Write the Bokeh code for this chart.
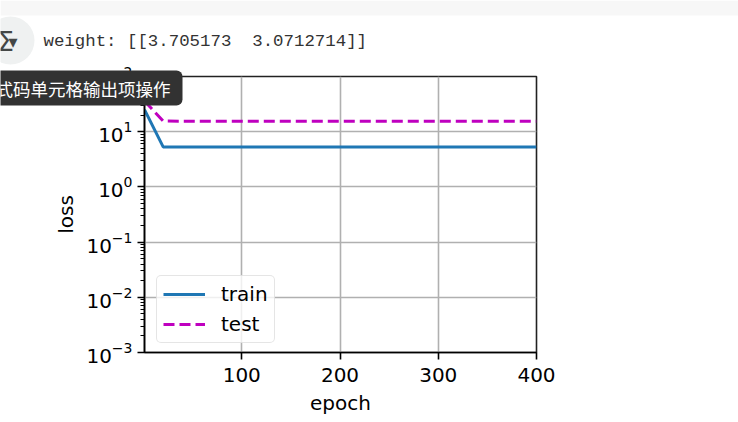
from bokeh.plotting import figure
from bokeh.models import (BoxAnnotation, ColumnDataSource, FixedTicker, Label, Legend, LegendItem,
                          LogTicker, Range1d)
from bokeh.embed import file_html
from bokeh.resources import INLINE

epochs = [1, 20, 40, 60, 80, 100, 120, 140, 160, 180, 200, 220, 240, 260, 280, 300, 320, 340, 360, 380, 400]
train = [25.0] + [5.3] * 20
test = [36.0, 15.6] + [15.5] * 19
x_ticks = [100, 200, 300, 400]
output_text = "weight: [[3.705173\u00a0 3.0712714]]"
tooltip_text = "式码单元格输出项操作"

W, H = 738, 422
L, T, R, B = 144, 76, 536, 352
AX = "DejaVu Sans"
p = figure(width=W, height=H, output_backend="svg", toolbar_location=None,
           y_axis_type="log", x_range=Range1d(1, 400), y_range=Range1d(1e-3, 1e2),
           min_border_left=L, min_border_right=W - R, min_border_top=T, min_border_bottom=H - B,
           x_axis_label="epoch", y_axis_label="loss",
           background_fill_color="white", border_fill_color="white")

p.outline_line_color = "#222222"
p.outline_line_width = 1.6
p.xgrid.grid_line_color = "#b0b0b0"
p.ygrid.grid_line_color = "#b0b0b0"
p.xgrid.grid_line_width = 1.6
p.ygrid.grid_line_width = 1.6
p.xgrid.ticker = FixedTicker(ticks=x_ticks)
p.xaxis.ticker = FixedTicker(ticks=x_ticks)
p.yaxis.ticker = LogTicker(mantissas=[1], num_minor_ticks=10)
p.ygrid.ticker = p.yaxis.ticker

for ax in (p.xaxis, p.yaxis):
    ax.axis_line_color = "black"
    ax.axis_line_width = 1.6
    ax.major_tick_line_color = "black"
    ax.major_tick_line_width = 1.6
    ax.major_tick_out = 7
    ax.major_tick_in = 0
    ax.minor_tick_line_color = "black"
    ax.minor_tick_line_width = 1.2
    ax.minor_tick_out = 4
    ax.minor_tick_in = 0
    ax.major_label_text_font = AX
    ax.major_label_text_font_size = "20px"
    ax.major_label_text_color = "black"
    ax.axis_label_text_font = AX
    ax.axis_label_text_font_size = "20px"
    ax.axis_label_text_font_style = "normal"
    ax.axis_label_text_color = "black"
p.xaxis.minor_tick_line_color = None
p.xaxis.major_label_standoff = 8
p.yaxis.major_label_standoff = 5
p.xaxis.axis_label_standoff = 6
p.yaxis.axis_label_standoff = 5

src = ColumnDataSource(dict(epoch=epochs, train=train, test=test))
r1 = p.line("epoch", "train", source=src, line_color="#1f77b4", line_width=3)
r2 = p.line("epoch", "test", source=src, line_color="#bf00bf", line_width=3, line_dash="11 5")

legend = Legend(items=[LegendItem(label="train", renderers=[r1]), LegendItem(label="test", renderers=[r2])],
                location=(12, 9), label_text_font=AX, label_text_font_size="20px", label_text_color="black",
                glyph_width=42, glyph_height=22, label_standoff=16, spacing=6, padding=6, margin=0,
                border_line_color="#cccccc", border_line_width=1.6, background_fill_alpha=0.8,
                border_radius=5)
p.add_layout(legend, "center")

# a second, transparent figure over the chart carries the notebook furniture around it
d = figure(width=W, height=H, output_backend="svg", toolbar_location=None,
           x_axis_location=None, y_axis_location=None, x_range=Range1d(0, W), y_range=Range1d(H, 0),
           min_border=0, min_border_left=0, min_border_right=0, min_border_top=0, min_border_bottom=0,
           background_fill_alpha=0, border_fill_alpha=0, outline_line_color=None,
           margin=(-H, 0, 0, 0))
d.grid.visible = False


def box(x0, y0, x1, y1, color, radius=0):
    d.add_layout(BoxAnnotation(left=x0, right=x1, top=H - y0, bottom=H - y1,
                               left_units="screen", right_units="screen", top_units="screen",
                               bottom_units="screen", fill_color=color, fill_alpha=1, line_color=None,
                               border_radius=radius, level="annotation"))


def label(x, y, text, color, font, size, align="left"):
    d.add_layout(Label(x=x, y=H - y, x_units="screen", y_units="screen", text=text, text_color=color,
                       text_font=font, text_font_size=size, text_align=align, text_baseline="middle",
                       level="annotation"))


box(0, 0, W, 15, "#f7f7f7")
box(-14, 16, 34, 64, "#eff1f1", 24)
label(-3, 41, "Σ", "#444746", AX, "26px")
label(8, 41, "▾", "#444746", AX, "18px")
box(-20, 70, 182, 105, "#323232", 6)
label(170, 88, tooltip_text, "white", "Noto Sans CJK SC", "17.5px", "right")
label(43, 41, output_text, "#333333", "Liberation Mono", "17.4px")

open("out.html", "w").write(file_html([p, d], INLINE))
